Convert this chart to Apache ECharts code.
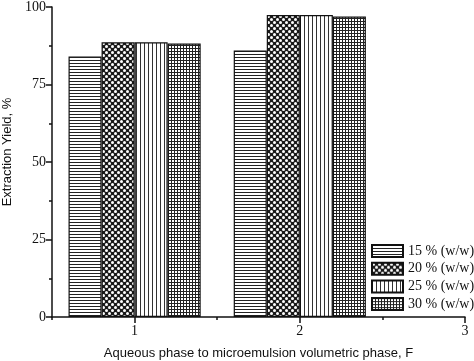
<!DOCTYPE html>
<html><head><meta charset="utf-8">
<script src="https://cdn.jsdelivr.net/npm/echarts@6/dist/echarts.min.js"></script>
<style>html,body{margin:0;padding:0;background:#fff}#c{width:474px;height:361px}</style>
</head><body><div id="c"></div>
<script>
const xPositions = [1, 2];
const seriesNames = ['15 % (w/w)', '20 % (w/w)', '25 % (w/w)', '30 % (w/w)'];
const s15 = [84.0, 86.0];
const s20 = [88.6, 97.4];
const s25 = [88.6, 97.4];
const s30 = [88.2, 96.9];
const yTicks = [0, 25, 50, 75, 100];
const xTicks = [1, 2, 3];
const xMinorTicks = [0.5, 1.5, 2.5];

function makePattern(kind) {
  const c = document.createElement('canvas');
  const ctx = c.getContext('2d');
  if (kind === 'h') {
    c.width = 4; c.height = 3;
    ctx.fillStyle = '#fff'; ctx.fillRect(0, 0, 4, 3);
    ctx.fillStyle = '#222'; ctx.fillRect(0, 0, 4, 1);
  } else if (kind === 'x') {
    c.width = 6; c.height = 6;
    ctx.fillStyle = '#1a1a1a'; ctx.fillRect(0, 0, 6, 6);
    ctx.fillStyle = '#fff';
    ctx.beginPath(); ctx.arc(1.5, 1.5, 1.5, 0, Math.PI * 2); ctx.fill();
    ctx.beginPath(); ctx.arc(4.5, 4.5, 1.5, 0, Math.PI * 2); ctx.fill();
  } else if (kind === 'v') {
    c.width = 4; c.height = 4;
    ctx.fillStyle = '#fff'; ctx.fillRect(0, 0, 4, 4);
    ctx.fillStyle = '#333'; ctx.fillRect(0, 0, 1, 4);
  } else {
    c.width = 3; c.height = 3;
    ctx.fillStyle = '#fff'; ctx.fillRect(0, 0, 3, 3);
    ctx.fillStyle = '#222'; ctx.fillRect(0, 0, 3, 1); ctx.fillRect(0, 0, 1, 3);
  }
  return { image: c, repeat: 'repeat' };
}
const patterns = [makePattern('h'), makePattern('x'), makePattern('v'), makePattern('g')];
const allValues = [s15, s20, s25, s30];

const chart = echarts.init(document.getElementById('c'), null, { renderer: 'canvas' });
const serif = 'Liberation Serif';
const sans = 'Liberation Sans';
chart.setOption({
  animation: false,
  backgroundColor: '#fff',
  grid: { left: 52, right: 9, top: 7, bottom: 44, containLabel: false, outerBoundsMode: 'none' },
  legend: {
    orient: 'vertical', left: 371, top: 244, padding: 0,
    itemWidth: 31, itemHeight: 12, itemGap: 3.7,
    textStyle: { fontFamily: serif, fontSize: 14, color: '#111' },
    icon: 'rect',
    data: seriesNames
  },
  xAxis: [{
    type: 'value', min: 0.5, max: 3,
    name: 'Aqueous phase to microemulsion volumetric phase, F',
    nameLocation: 'middle', nameGap: 30,
    nameTextStyle: { fontFamily: sans, fontSize: 13, color: '#111' },
    axisLine: { show: true, onZero: false, lineStyle: { color: '#111', width: 1.5 } },
    axisTick: { show: true, customValues: xTicks, length: 6, lineStyle: { color: '#111', width: 1.5 } },
    axisLabel: { customValues: xTicks, fontFamily: serif, fontSize: 14, color: '#111', margin: 7 },
    splitLine: { show: false }
  }, {
    type: 'value', min: 0.5, max: 3, position: 'bottom',
    axisLine: { show: false, onZero: false },
    axisTick: { show: true, customValues: xMinorTicks, length: 3, lineStyle: { color: '#111', width: 1.5 } },
    axisLabel: { show: false },
    splitLine: { show: false }
  }],
  yAxis: {
    type: 'value', min: 0, max: 100, interval: 25,
    name: 'Extraction Yield, %', nameLocation: 'middle', nameGap: 36,
    nameTextStyle: { fontFamily: sans, fontSize: 13, color: '#111', padding: [0, 0, 0, 20] },
    axisLine: { show: true, lineStyle: { color: '#111', width: 1.5 } },
    axisTick: { show: true, length: 6, lineStyle: { color: '#111', width: 1.5 } },
    minorTick: { show: true, splitNumber: 2, length: 3, lineStyle: { color: '#111', width: 1.5 } },
    axisLabel: { fontFamily: serif, fontSize: 14, color: '#111', margin: 6 },
    splitLine: { show: false }
  },
  series: seriesNames.map((n, i) => ({
    name: n, type: 'bar', xAxisIndex: 0,
    barGap: '0%', barCategoryGap: '20%',
    itemStyle: { color: patterns[i], borderColor: '#111', borderWidth: 1.2 },
    data: xPositions.map((x, j) => [x, allValues[i][j]])
  }))
});
</script></body></html>
